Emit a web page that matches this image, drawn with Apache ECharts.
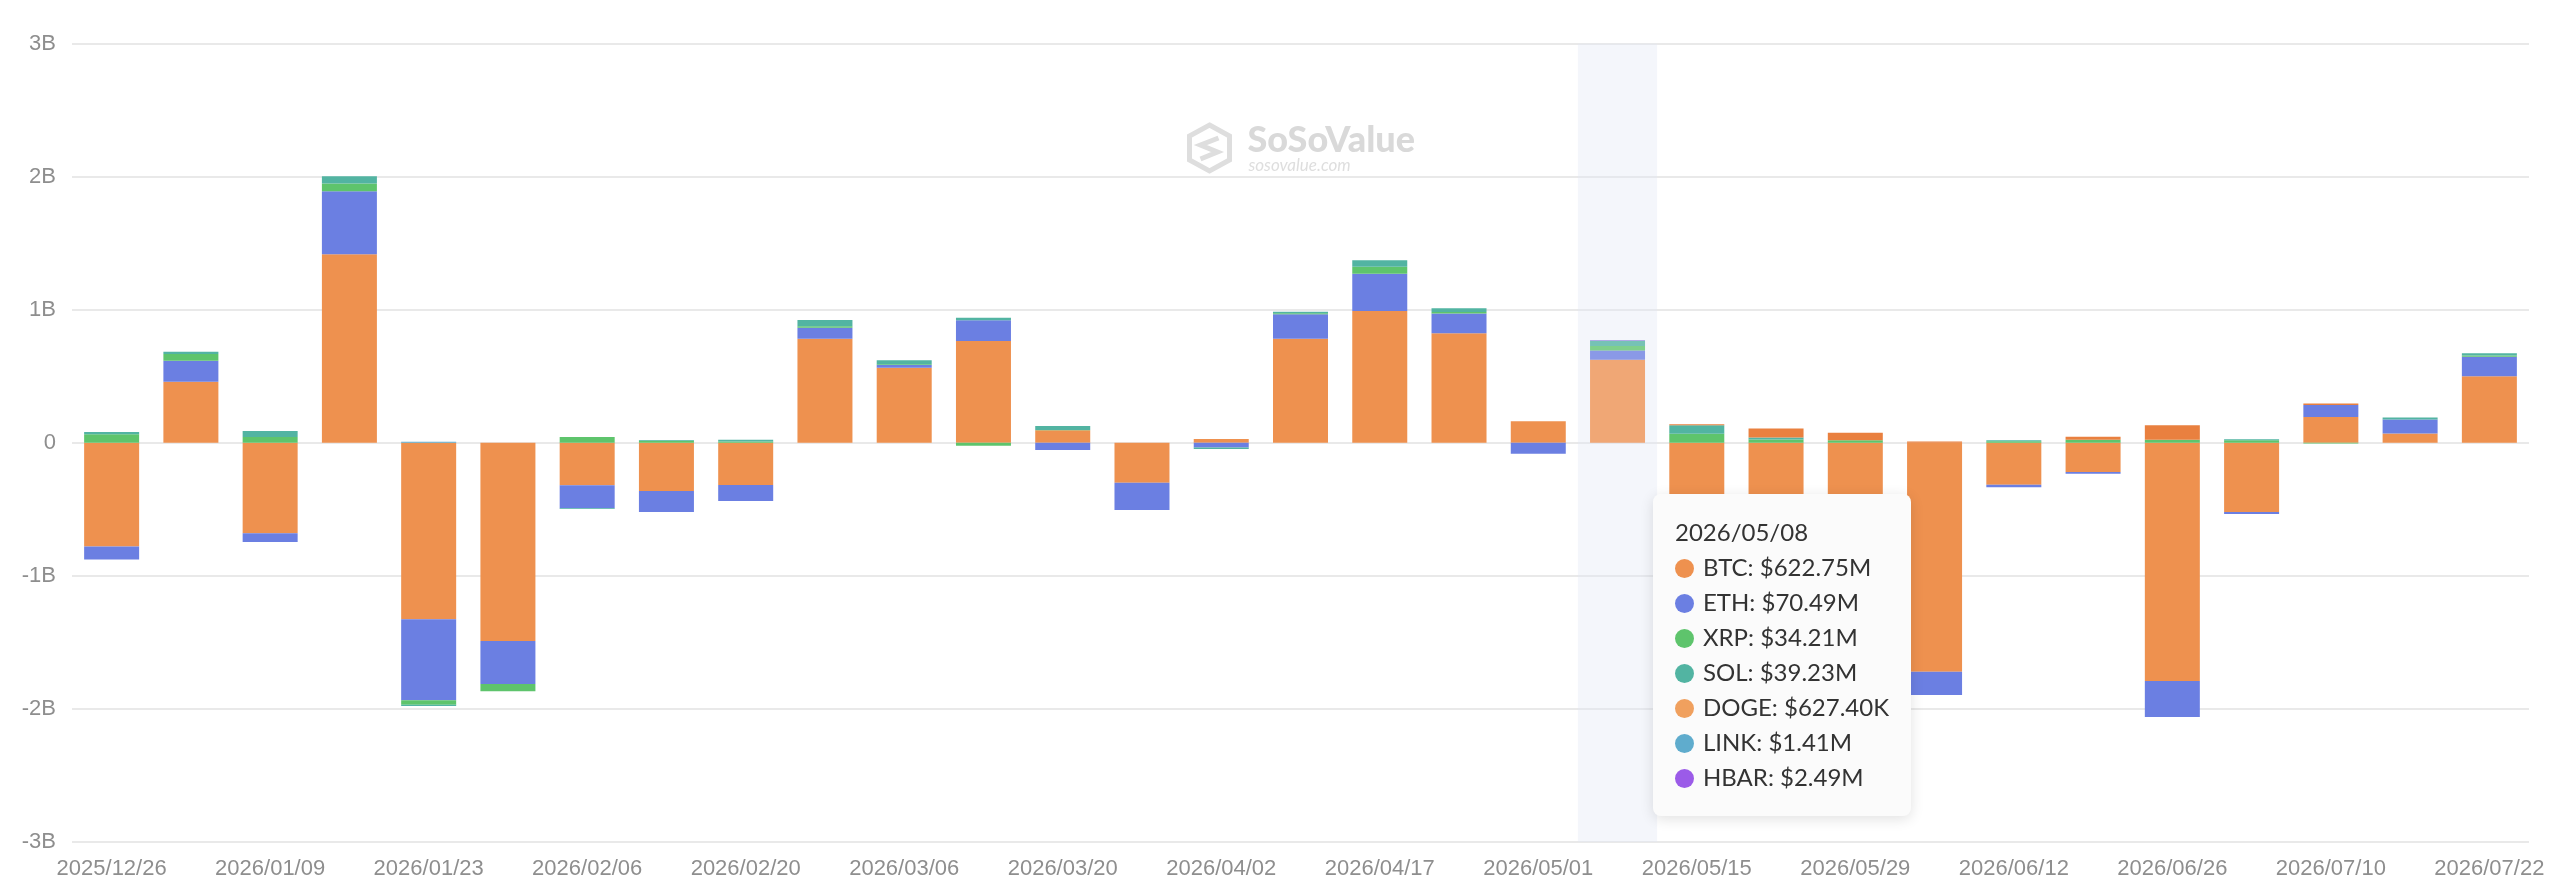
<!DOCTYPE html>
<html>
<head>
<meta charset="utf-8">
<title>Crypto ETF weekly net flow</title>
<script src="https://cdn.jsdelivr.net/npm/echarts@6.0.0/dist/echarts.min.js"></script>
<style>
  html, body { margin: 0; padding: 0; background: #fff; }
  #chart { width: 2560px; height: 896px; }
</style>
</head>
<body>
<div id="chart"></div>
<script>
// weekly net flow per asset, in $M
const weeks = [
  '2025/12/26', '2026/01/02', '2026/01/09', '2026/01/16', '2026/01/23', '2026/01/30',
  '2026/02/06', '2026/02/13', '2026/02/20', '2026/02/27', '2026/03/06', '2026/03/13',
  '2026/03/20', '2026/03/27', '2026/04/02', '2026/04/10', '2026/04/17', '2026/04/24',
  '2026/05/01', '2026/05/08', '2026/05/15', '2026/05/22', '2026/05/29', '2026/06/05',
  '2026/06/12', '2026/06/19', '2026/06/26', '2026/07/03', '2026/07/10', '2026/07/17',
  '2026/07/22'
];
const btc = [-780, 458, -680, 1416, -1326, -1489, -320, -363, -318, 782, 564, 765, 93, -300, 28, 782,
  990, 822, 161, 622.75, -620, -720, -560, -1720, -316, -220, -1790, -520, 193, 70, 500];
const eth = [-98, 158, -65, 474, -608, -323, -173, -158, -120, 83, 20, 155, -55, -205, -35, 183,
  280, 150, -83, 70.49, -60, -40, -30, -175, -18, -12, -270, -15, 90, 105, 147];
const xrp = [63, 50, 43, 58, -35, -55, 43, 15, 10, 10, 5, -22, 3, 0, 0, 8,
  53, 10, 0, 34.21, 68, 25, 18, 0, 12, 22, 22, 18, -5, 0, 8];
const sol = [17, 17, 45, 55, -10, 0, -5, 5, 12, 48, 30, 20, 30, 0, -12, 12,
  48, 28, 0, 39.23, 63, 15, 0, 0, 6, 0, 0, 8, 0, 15, 17];
const doge = [0, 0, 0, 0, 0, 0, 0, 0, 0, 0, 0, 0, 0, 0, 0, 0,
  0, 0, 0, 0.6274, 8, 68, 57, 10, 0, 23, 110, 0, 12, 0, 0];
const link = [0, 0, 0, 0, 8, 0, 0, 0, 0, 0, 0, 0, 0, 0, 0, 0,
  0, 0, 0, 1.41, 0, 0, 0, 0, 0, 0, 0, 0, 0, 0, 0];
const hbar = [0, 0, 0, 0, 0, 0, 0, 0, 0, 0, 0, 0, 0, 0, 0, 0,
  0, 0, 0, 2.49, 0, 0, 0, 0, 0, 0, 0, 0, 0, 0, 0];

const assets = ['BTC', 'ETH', 'XRP', 'SOL', 'DOGE', 'LINK', 'HBAR'];
const flows = [btc, eth, xrp, sol, doge, link, hbar];
const yMin = -3000, yMax = 3000, yStep = 1000;

const barColors = ['#ee914f', '#6b7fe2', '#5ec46c', '#52b4a2', '#e9803f', '#5faccd', '#9b5be8'];
const dotColors = ['#ee914f', '#6b7fe2', '#5ec46c', '#52b4a2', '#f0a05e', '#5faccd', '#9b5be8'];

function money(v) {
	const a = Math.abs(v);
	const s = v < 0 ? '-$' : '$';
	if (a >= 1000) return s + (a / 1000).toFixed(2) + 'B';
	if (a >= 1) return s + a.toFixed(2) + 'M';
	return s + (a * 1000).toFixed(2) + 'K';
}

const chart = echarts.init(document.getElementById('chart'));

chart.setOption({
	animation: false,
	backgroundColor: '#fff',
	grid: { left: 72, right: 31, top: 43.5, bottom: 54, outerBoundsMode: 'none' },
	tooltip: {
		trigger: 'axis',
		alwaysShowContent: true,
		transitionDuration: 0,
		axisPointer: {
			type: 'shadow',
			z: 1,
			shadowStyle: { color: 'rgba(226,231,245,0.38)' }
		},
		backgroundColor: '#fbfbfb',
		borderWidth: 0,
		padding: [20, 22, 22, 22],
		extraCssText: 'border-radius:8px;box-shadow:0 3px 14px rgba(0,0,0,0.12);',
		textStyle: { fontFamily: 'Lato', fontSize: 24, color: '#333' },
		formatter: function (params) {
			let html = '<div style="line-height:35px">' + params[0].axisValue + '</div>';
			params.forEach(function (p) {
				if (!p.value) return;
				html += '<div style="line-height:35px;white-space:nowrap">' +
					'<span style="display:inline-block;width:19px;height:19px;border-radius:50%;margin-right:9px;vertical-align:-2px;background:' +
					dotColors[p.seriesIndex] + '"></span>' + p.seriesName + ': ' + money(p.value) + '</div>';
			});
			return html;
		}
	},
	xAxis: {
		type: 'category',
		data: weeks,
		axisLine: { show: false },
		axisTick: { show: false },
		axisLabel: {
			interval: 1,
			margin: 16,
			color: '#8e8e8e',
			fontSize: 22,
			fontFamily: 'Liberation Sans'
		}
	},
	yAxis: {
		type: 'value',
		min: yMin,
		max: yMax,
		interval: yStep,
		axisLine: { show: false },
		axisTick: { show: false },
		splitLine: { lineStyle: { color: '#e9e9e9', width: 2 } },
		axisLabel: {
			margin: 16,
			color: '#8e8e8e',
			fontSize: 22,
			fontFamily: 'Liberation Sans',
			formatter: function (v) { return v === 0 ? '0' : (v / 1000) + 'B'; }
		}
	},
	graphic: [{
		type: 'group',
		left: 1187,
		top: 122,
		silent: true,
		z: 0,
		children: [
			{ type: 'polygon', shape: { points: [[22, 2], [42, 13], [42, 37], [22, 48], [2, 37], [2, 13]] },
				style: { fill: 'none', stroke: '#dedede', lineWidth: 5 } },
			{ type: 'polyline', shape: { points: [[31, 15], [13, 22], [30, 29], [13, 36]] },
				style: { fill: 'none', stroke: '#dedede', lineWidth: 5 } },
			{ type: 'text', x: 60, y: -1, style: { text: 'SoSoValue', font: '900 36px Lato', fill: '#d9d9d9' } },
			{ type: 'text', x: 61, y: 34, style: { text: 'sosovalue.com', font: 'italic 17px Lato', fill: '#dedede' } }
		]
	}],
	series: flows.map(function (vals, i) {
		return {
			name: assets[i],
			type: 'bar',
			stack: 'total',
			barWidth: 55,
			data: vals,
			itemStyle: { color: barColors[i] },
			emphasis: { itemStyle: { color: barColors[i], opacity: 0.78 } }
		};
	})
});

chart.dispatchAction({ type: 'showTip', x: 1633, y: 474 });
</script>
</body>
</html>
